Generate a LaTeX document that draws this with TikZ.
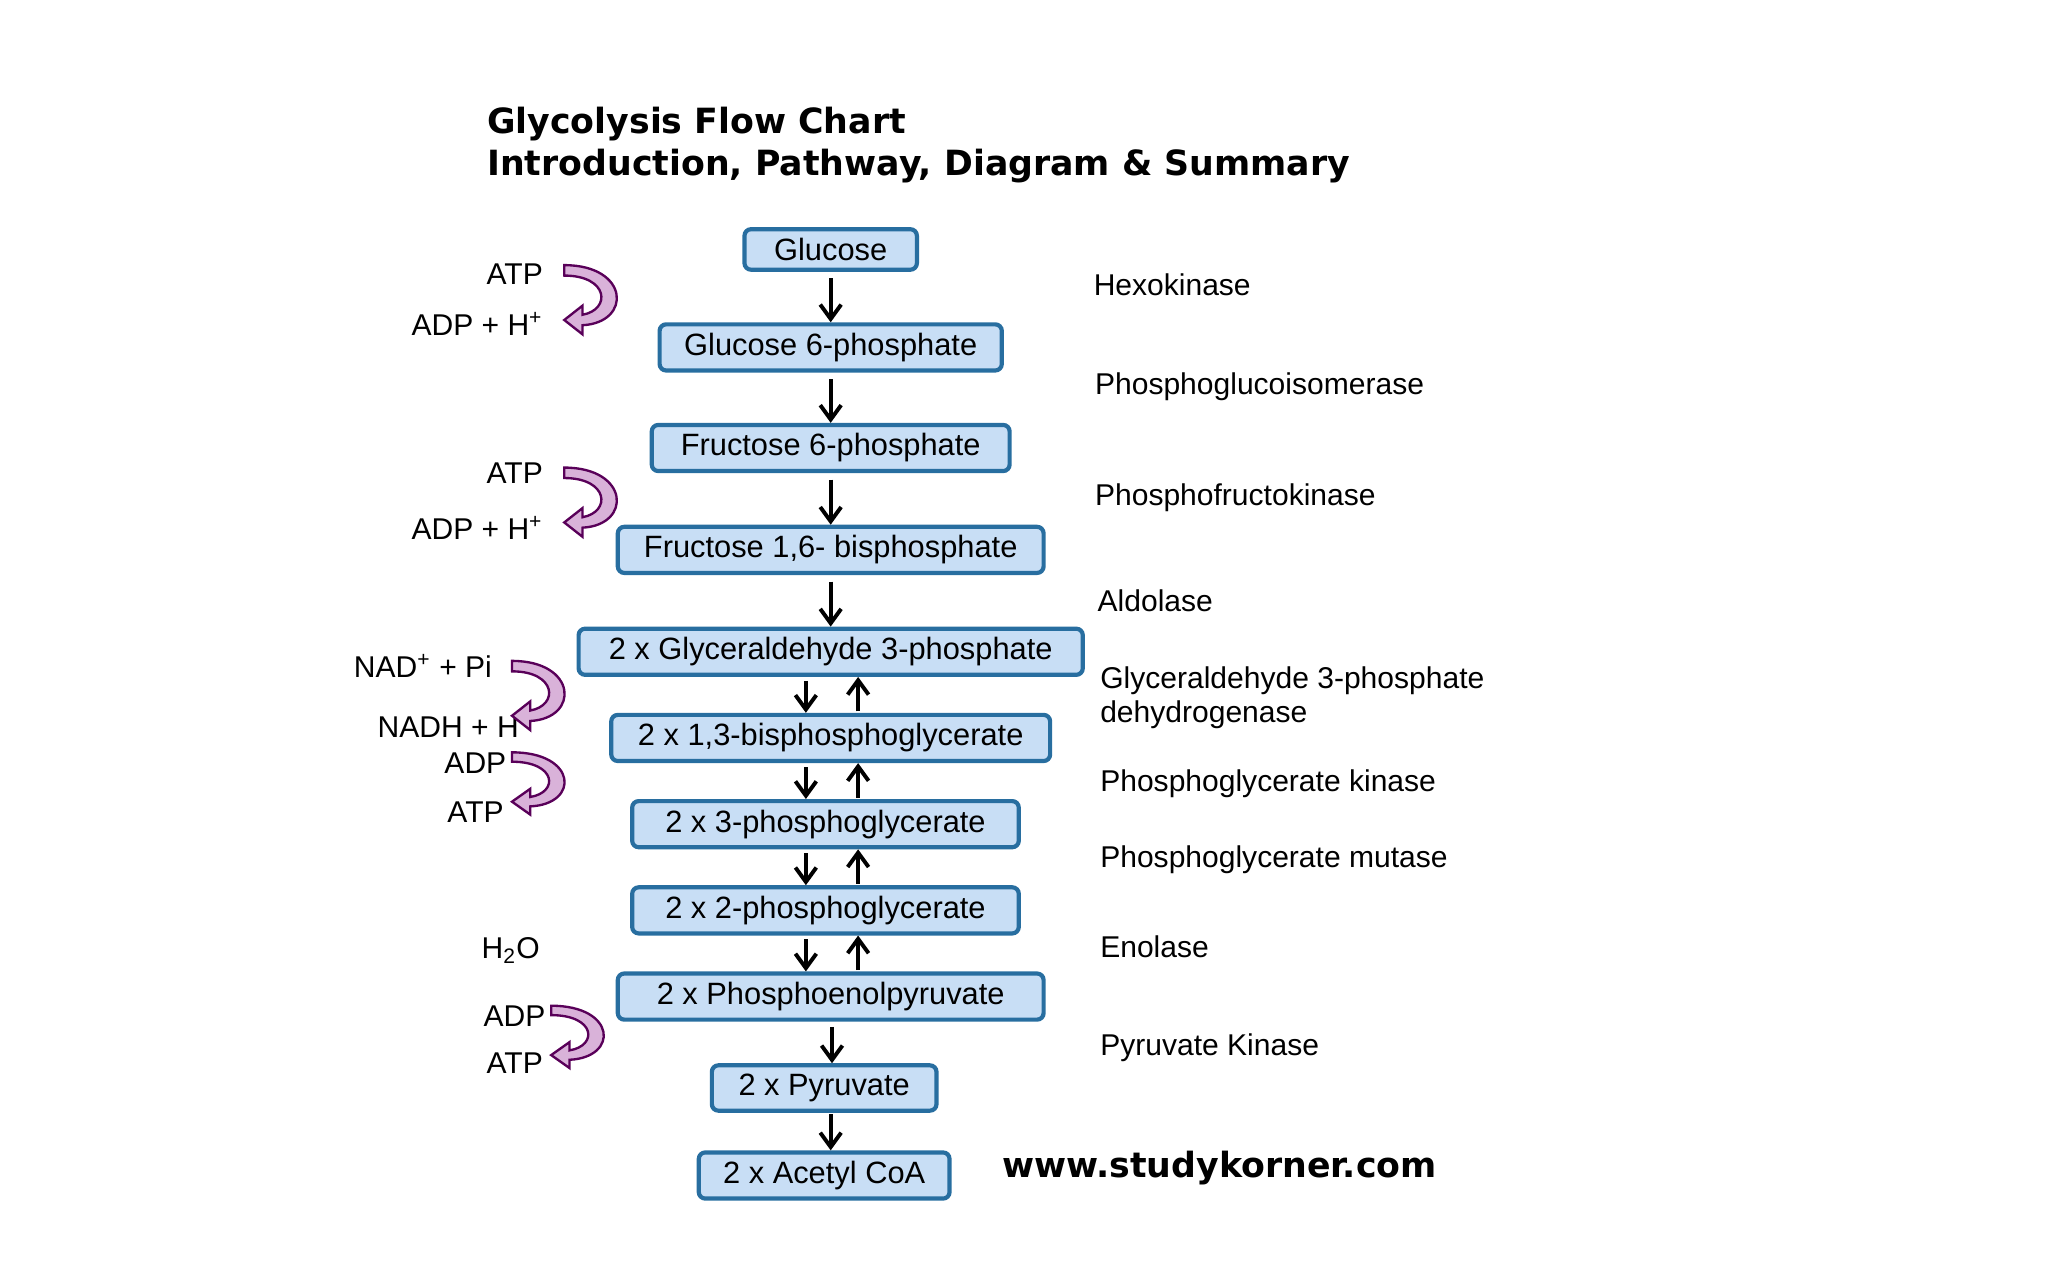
\documentclass[tikz,border=0pt]{standalone}
\usepackage{fontspec}
\setmainfont{Liberation Sans}
\newfontfamily\titlef{DejaVu Sans}
\usetikzlibrary{arrows.meta}
\definecolor{boxfill}{RGB}{200,222,245}
\definecolor{boxline}{RGB}{40,110,160}
\begin{document}
\begin{tikzpicture}[x=0.5pt,y=-0.5pt,
  box/.style={draw=boxline,line width=1.6pt,fill=boxfill,rounded corners=2.5pt,minimum height=15.5pt,inner xsep=5pt,font=\fontsize{11.8}{13}\selectfont},
  lab/.style={font=\fontsize{11.5}{13}\selectfont,inner sep=0pt},
  enz/.style={lab,anchor=west,align=left},
  conn/.style={-{Straight Barb[length=5.5pt,width=8pt]},line width=1.5pt},
  band/.style={fill=violet!30!white,draw=violet!70!black,line width=0.9pt}]
\useasboundingbox (0,0) rectangle (1568,967);
\node[anchor=west,font=\titlef\bfseries\fontsize{13.3}{16}\selectfont,align=left] (title) at (366,111) {Glycolysis Flow Chart\\Introduction, Pathway, Diagram \& Summary};
% boxes
\node[box,minimum width=66pt] (glc) at (636,191) {Glucose};
\node[box,minimum width=131pt] (g6p) at (636,266) {Glucose 6-phosphate};
\node[box,minimum width=137pt] (f6p) at (636,343) {Fructose 6-phosphate};
\node[box,minimum width=163pt] (fbp) at (636,421) {Fructose 1,6- bisphosphate};
\node[box,minimum width=193pt] (g3p) at (636,499) {2 x Glyceraldehyde 3-phosphate};
\node[box,minimum width=168pt] (bpg) at (636,565) {2 x 1,3-bisphosphoglycerate};
\node[box,minimum width=148pt] (pg3) at (632,631) {2 x 3-phosphoglycerate};
\node[box,minimum width=148pt] (pg2) at (632,697) {2 x 2-phosphoglycerate};
\node[box,minimum width=163pt] (pep) at (636,763) {2 x Phosphoenolpyruvate};
\node[box,minimum width=86pt] (pyr) at (631,833) {2 x Pyruvate};
\node[box,minimum width=96pt] (aco) at (631,900) {2 x Acetyl CoA};
% connectors
\draw[conn] (glc.south) ++(0,5) coordinate (a1) -- (a1 |- g6p.north);
\draw[conn] (g6p.south) ++(0,5) coordinate (a2) -- (a2 |- f6p.north);
\draw[conn] (f6p.south) ++(0,5) coordinate (a3) -- (a3 |- fbp.north);
\draw[conn] (fbp.south) ++(0,5) coordinate (a4) -- (a4 |- g3p.north);
\foreach \u/\l in {g3p/bpg,bpg/pg3,pg3/pg2,pg2/pep}{
  \draw[conn] ([xshift=-9.5pt]\u.south -| 636,0) ++(0,3) coordinate (d) -- (d |- \l.north);
  \draw[conn] ([xshift=10.5pt]\l.north -| 636,0) ++(0,-1) coordinate (e) -- (e |- \u.south);
}
\draw[conn] (pep.south) ++(1,4) coordinate (a5) -- (a5 |- pyr.north);
\draw[conn] (pyr.south) ++(5,1) coordinate (a6) -- (a6 |- aco.north);
% enzymes
\node[enz] (e1) at (837,218) {Hexokinase};
\node[enz] (e2) at (838,296) {Phosphoglucoisomerase};
\node[enz] (e3) at (838,381) {Phosphofructokinase};
\node[enz] (e4) at (840,460) {Aldolase};
\node[enz] (e5) at (842,534) {Glyceraldehyde 3-phosphate\\dehydrogenase};
\node[enz] (e6) at (842,600) {Phosphoglycerate kinase};
\node[enz] (e7) at (842,658) {Phosphoglycerate mutase};
\node[enz] (e8) at (842,725) {Enolase};
\node[enz] (e9) at (842,802) {Pyruvate Kinase};
\node[anchor=west,font=\titlef\bfseries\fontsize{13.3}{16}\selectfont,inner sep=0pt] (web) at (767,894) {www.studykorner.com};
% side labels
\node[lab,anchor=east] (s1) at (416,210) {ATP};
\node[lab,anchor=east] (s2) at (416,248) {ADP + H\textsuperscript{+}};
\node[lab,anchor=east] (s3) at (416,362) {ATP};
\node[lab,anchor=east] (s4) at (416,404) {ADP + H\textsuperscript{+}};
\node[lab,anchor=east] (s5) at (377,510) {NAD\textsuperscript{+} + Pi};
\node[lab,anchor=east] (s6) at (408,556) {NADH + H\textsuperscript{+}};
\node[lab,anchor=east] (s7) at (388,584) {ADP};
\node[lab,anchor=east] (s8) at (386,622) {ATP};
\node[lab] (s9) at (391,728) {H\textsubscript{2}O};
\node[lab,anchor=east] (s10) at (418,778) {ADP};
\node[lab,anchor=east] (s11) at (416,814) {ATP};
% curved arrows
\foreach \x/\y/\s in {432/203/1, 432/358/1, 392/506/1, 392/576/0.9, 422/770/0.9}{
  \begin{scope}[shift={(\x,\y)},yscale=\s]
  \draw[band] (0,0) .. controls (50,0) and (52,44) .. (14,46) -- (14,53) -- (0,42) -- (14,31) -- (14,38) .. controls (36,34) and (34,8) .. (0,8) -- cycle;
  \end{scope}}
\end{tikzpicture}
\end{document}
